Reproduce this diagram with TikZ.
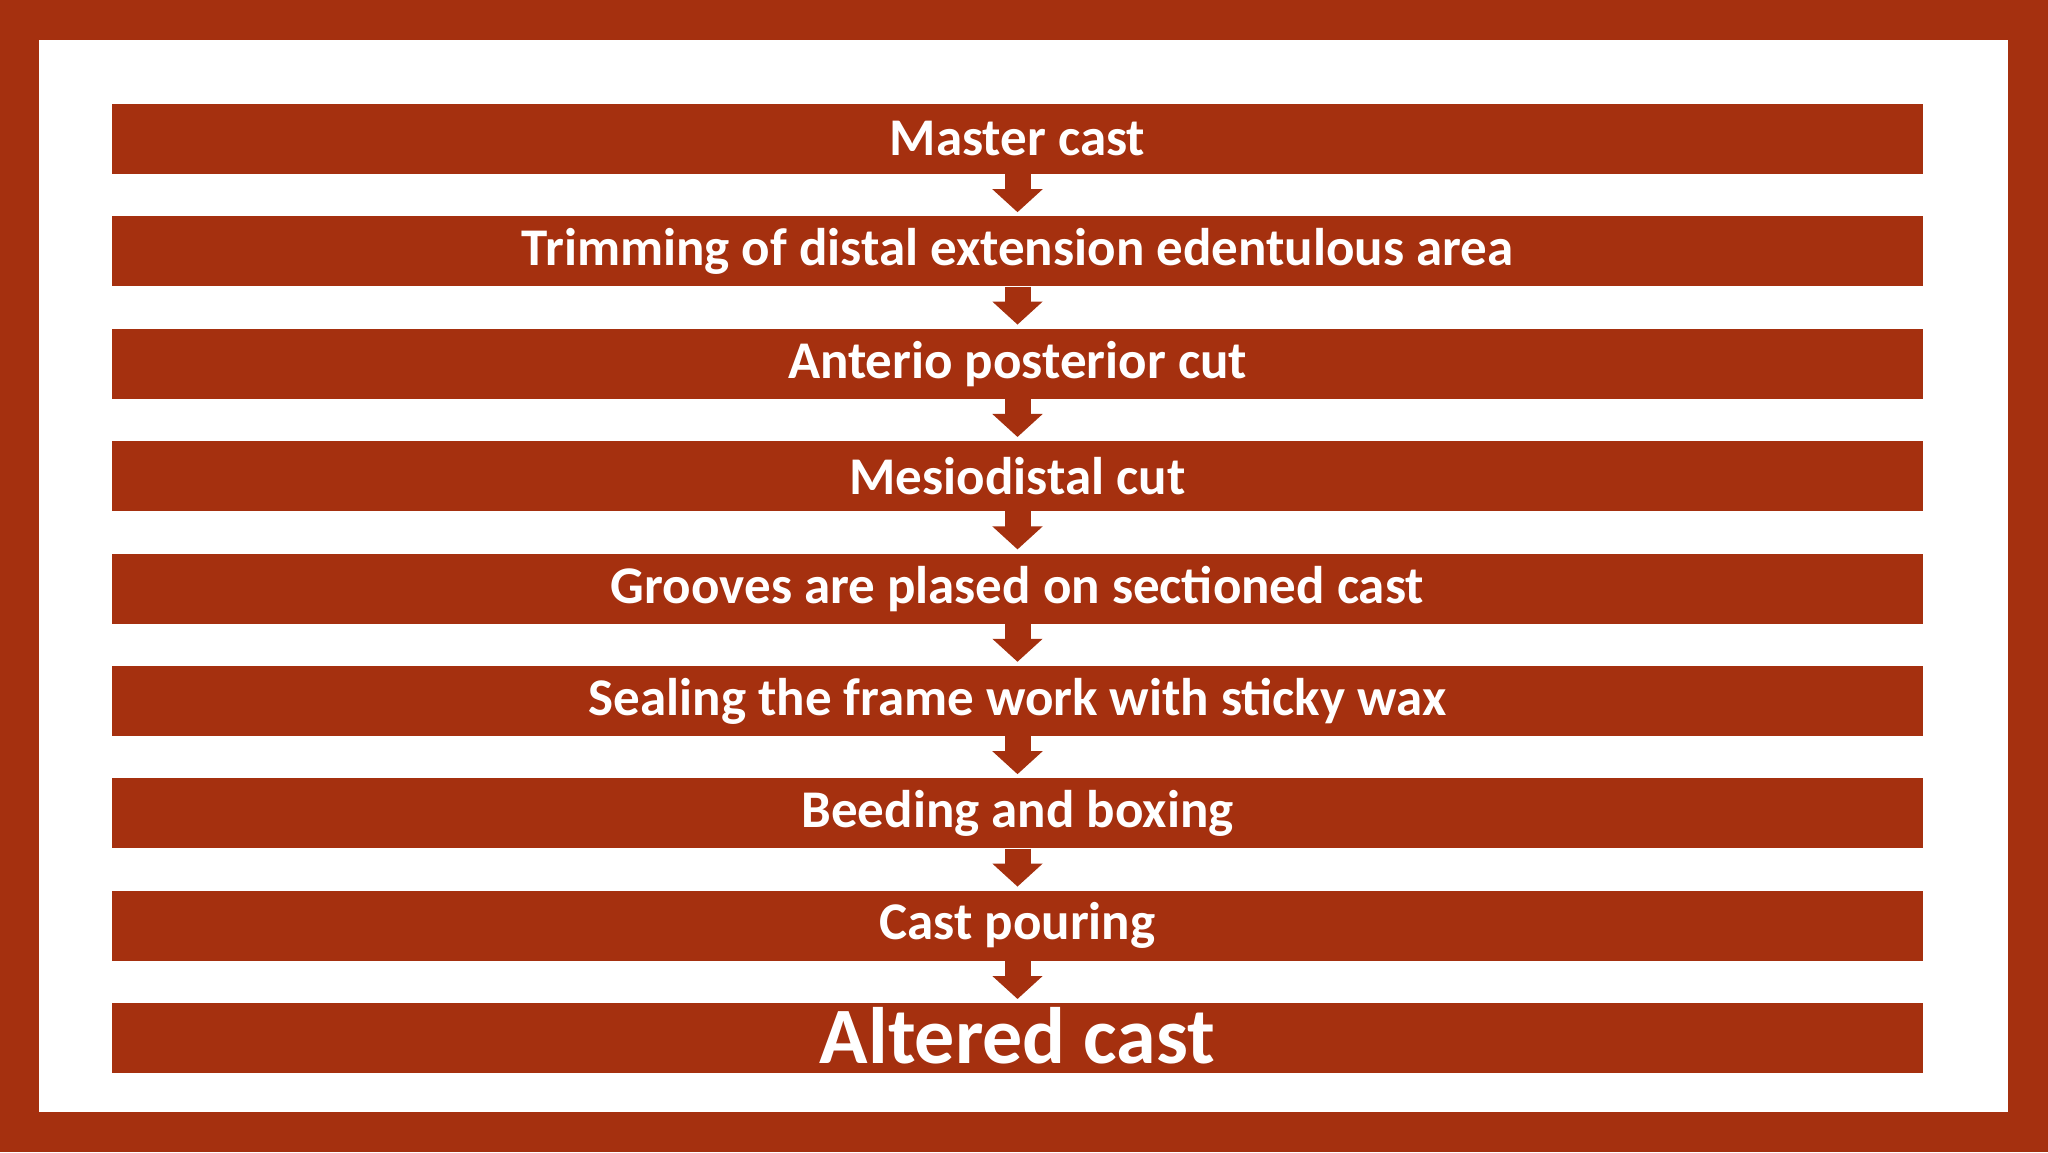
\documentclass[tikz,border=0pt]{standalone}
\usepackage{fontspec}
\setmainfont{Carlito}
\usetikzlibrary{arrows.meta, positioning}

\definecolor{rust}{HTML}{A5300F}

\begin{document}
\begin{tikzpicture}[
    x=1pt, y=1pt,
    node distance=42pt,
    bar/.style={fill=rust, rectangle, minimum width=1811pt, minimum height=70pt, inner sep=0pt,
                text=white, font=\fontsize{53}{60}\selectfont\bfseries},
    flow/.style={draw=rust, line width=26pt, -{Triangle[width=49pt, length=23pt]}, shorten >=4pt}
]

% frame
\fill[rust] (0,0) rectangle (2048,1152);
\fill[white] (39,40) rectangle (2008,1112);
\useasboundingbox (0,0) rectangle (2048,1152);

% steps
\node[bar] (master) at (1017.5,1013) {Master cast};
\node[bar, below=of master] (trim) {Trimming of distal extension edentulous area};
\node[bar, below=of trim] (apcut) {Anterio posterior cut};
\node[bar, below=of apcut] (mdcut) {Mesiodistal cut};
\node[bar, below=of mdcut] (grooves) {Grooves are plased on sectioned cast};
\node[bar, below=of grooves] (sealing) {Sealing the frame work with sticky wax};
\node[bar, below=of sealing] (beeding) {Beeding and boxing};
\node[bar, below=of beeding] (pouring) {Cast pouring};
\node[bar, below=of pouring, font=\fontsize{80}{84}\selectfont\bfseries] (altered) {\raisebox{6pt}{Altered cast}};

% arrows
\foreach \i/\j in {master/trim, trim/apcut, apcut/mdcut, mdcut/grooves,
                  grooves/sealing, sealing/beeding, beeding/pouring, pouring/altered}
    \draw[flow] (\i) -- (\j);

\end{tikzpicture}
\end{document}
